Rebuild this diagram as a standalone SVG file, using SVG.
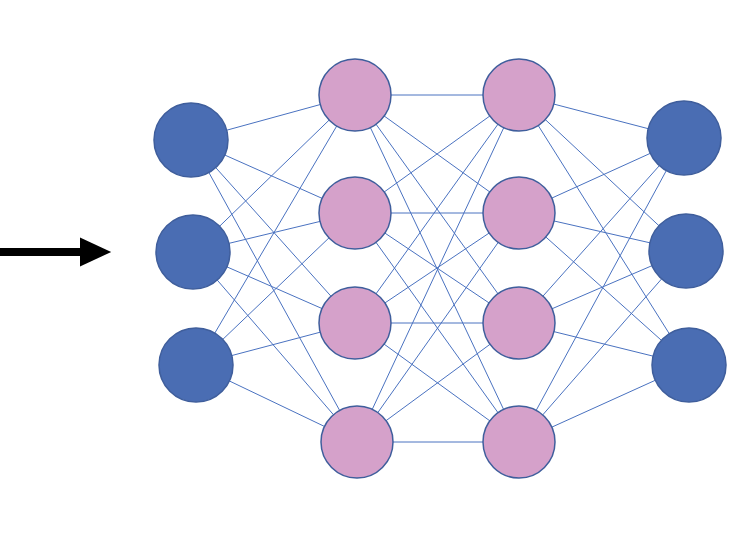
<svg xmlns="http://www.w3.org/2000/svg" width="750" height="543" viewBox="0 0 750 543">
<style>
.e{stroke:#4A72C0;stroke-width:1;fill:none}
.b{fill:#4A6DB3;stroke:#3F5E9C;stroke-width:1.5}
.p{fill:#D5A1CA;stroke:#3F5E9C;stroke-width:1.5}
</style>
<defs><marker id="ah" markerWidth="4" markerHeight="4" refX="2" refY="2" orient="auto" markerUnits="strokeWidth"><path d="M0,0.2 L3.9,2 L0,3.8 Z" fill="#000"/></marker></defs>
<rect width="750" height="543" fill="#fff"/>
<g id="connectors">
<line x1="0" y1="252" x2="96" y2="252" stroke="#000" stroke-width="8" marker-end="url(#ah)"/>
<g class="e">
<path d="M191,140L355,95M191,140L355,213M191,140L355,323M191,140L357,442
M193,252L355,95M193,252L355,213M193,252L355,323M193,252L357,442
M196,365L355,95M196,365L355,213M196,365L355,323M196,365L357,442"/>
<path d="M355,95L519,95M355,95L519,213M355,95L519,323M355,95L519,442
M355,213L519,95M355,213L519,213M355,213L519,323M355,213L519,442
M355,323L519,95M355,323L519,213M355,323L519,323M355,323L519,442
M357,442L519,95M357,442L519,213M357,442L519,323M357,442L519,442"/>
<path d="M519,95L684,138M519,95L686,251M519,95L689,365
M519,213L684,138M519,213L686,251M519,213L689,365
M519,323L684,138M519,323L686,251M519,323L689,365
M519,442L684,138M519,442L686,251M519,442L689,365"/>
</g>
</g>
<g id="in1"><circle class="b" cx="191" cy="140" r="37"/></g>
<g id="in2"><circle class="b" cx="193" cy="252" r="37"/></g>
<g id="in3"><circle class="b" cx="196" cy="365" r="37"/></g>
<g id="h1a"><circle class="p" cx="355" cy="95" r="36"/></g>
<g id="h1b"><circle class="p" cx="355" cy="213" r="36"/></g>
<g id="h1c"><circle class="p" cx="355" cy="323" r="36"/></g>
<g id="h1d"><circle class="p" cx="357" cy="442" r="36"/></g>
<g id="h2a"><circle class="p" cx="519" cy="95" r="36"/></g>
<g id="h2b"><circle class="p" cx="519" cy="213" r="36"/></g>
<g id="h2c"><circle class="p" cx="519" cy="323" r="36"/></g>
<g id="h2d"><circle class="p" cx="519" cy="442" r="36"/></g>
<g id="out1"><circle class="b" cx="684" cy="138" r="37"/></g>
<g id="out2"><circle class="b" cx="686" cy="251" r="37"/></g>
<g id="out3"><circle class="b" cx="689" cy="365" r="37"/></g>
</svg>
